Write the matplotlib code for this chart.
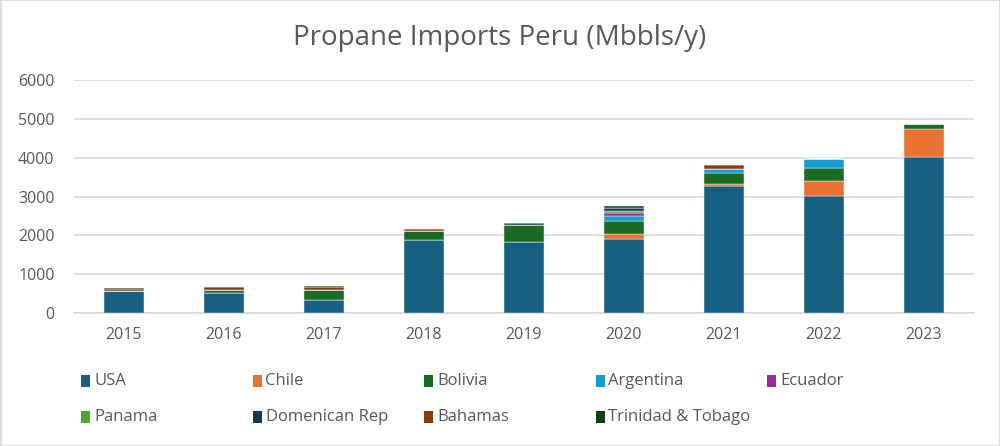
import matplotlib.pyplot as plt
from matplotlib.patches import Rectangle
import numpy as np

plt.rcParams['font.family'] = ['Open Sans', 'DejaVu Sans']

years = ['2015', '2016', '2017', '2018', '2019', '2020', '2021', '2022', '2023']

# Mbbls/y per origin
usa = [570, 525, 335, 1880, 1840, 1900, 3280, 3015, 4020]
chile = [0, 0, 0, 0, 0, 140, 50, 395, 720]
bolivia = [10, 80, 260, 230, 420, 330, 270, 335, 140]
argentina = [0, 0, 0, 0, 20, 130, 120, 225, 0]
ecuador = [0, 0, 0, 0, 0, 85, 0, 0, 0]
panama = [0, 0, 0, 0, 0, 50, 0, 0, 0]
domenican = [0, 0, 0, 0, 40, 70, 0, 0, 0]
bahamas = [45, 65, 70, 55, 0, 0, 100, 0, 0]
trinidad = [15, 0, 30, 0, 0, 45, 0, 0, 0]

names = ['USA', 'Chile', 'Bolivia', 'Argentina', 'Ecuador',
         'Panama', 'Domenican Rep', 'Bahamas', 'Trinidad & Tobago']
series = [usa, chile, bolivia, argentina, ecuador, panama, domenican, bahamas, trinidad]
colors = ['#156082', '#E97132', '#196B24', '#0F9ED5', '#A02B93',
          '#4EA72E', '#0E3A50', '#8B3A10', '#0F4016']

fig = plt.figure(figsize=(10, 4.46), dpi=100)
ax = fig.add_axes([0.074, 0.298, 0.90, 0.522])

x = np.arange(len(years))
bottom = np.zeros(len(years))
for name, vals, c in zip(names, series, colors):
    ax.bar(x, vals, 0.4, bottom=bottom, color=c, label=name,
           edgecolor='#ffffff', linewidth=0.3, zorder=3)
    bottom += np.array(vals)

ax.set_xlim(-0.5, len(years) - 0.5)
ax.set_ylim(0, 6000)
ax.set_yticks(range(0, 6001, 1000))
ax.set_xticks(x)
ax.set_xticklabels(years)
ax.grid(axis='y', color='#d9d9d9', linewidth=1.2, zorder=0)
ax.tick_params(length=0, labelsize=11.5, colors='#595959', pad=10)
ax.tick_params(axis='y', pad=14)
for s in ['top', 'right', 'left']:
    ax.spines[s].set_visible(False)
ax.spines['bottom'].set_color('#d9d9d9')
ax.spines['bottom'].set_linewidth(1.2)

fig.text(0.5, 0.915, 'Propane Imports Peru (Mbbls/y)', ha='center', va='center',
         fontsize=20, color='#595959')

# legend, 5 columns x 2 rows
for i, (name, c) in enumerate(zip(names, colors)):
    col, row = i % 5, i // 5
    lx = 0.081 + col * 0.1715
    ly = 1 - (381 + row * 36) / 446
    fig.patches.append(Rectangle((lx, ly - 0.013), 0.009, 0.026, transform=fig.transFigure,
                                 facecolor=c, edgecolor='none'))
    fig.text(lx + 0.013, ly, name, ha='left', va='center', fontsize=12, color='#595959')

fig.patches.append(Rectangle((0.0005, 0.001), 0.999, 0.998, transform=fig.transFigure,
                             facecolor='none', edgecolor='#d9d9d9', linewidth=1.2))

fig.savefig('out.png', dpi=100)
